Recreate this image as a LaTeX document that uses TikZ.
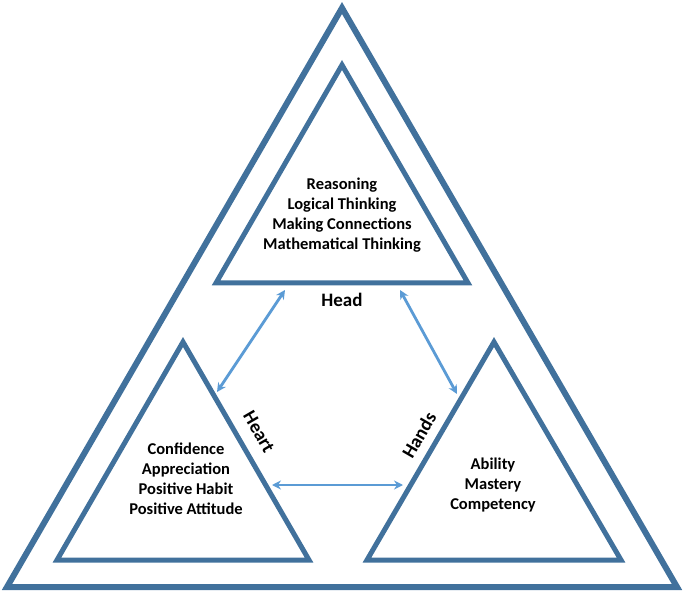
\documentclass[tikz,border=0pt]{standalone}
\usepackage{fontspec}
\setmainfont{Carlito}
\usetikzlibrary{arrows.meta}
\definecolor{tri}{RGB}{65,113,156}
\definecolor{arr}{RGB}{91,155,213}
\begin{document}
\begin{tikzpicture}[x=1pt,y=-1pt,
  outertri/.style={draw=tri,line width=6pt,line join=miter},
  innertri/.style={draw=tri,line width=5pt,line join=miter},
  link/.style={draw=arr,line width=2.8pt,{Stealth[length=9pt,width=9pt]}-{Stealth[length=9pt,width=9pt]}},
  lbl/.style={font=\bfseries\fontsize{16.5}{20}\selectfont,align=center,text=black,inner sep=0pt},
  side/.style={font=\bfseries\fontsize{19}{22}\selectfont,text=black,inner sep=0pt}]
\useasboundingbox (0,0) rectangle (685,593);
% outer triangle
\draw[outertri] (342,8) -- (677,587) -- (7,587) -- cycle;
% inner triangles
\draw[innertri] (342,65) -- (468,283) -- (216,283) -- cycle;
\draw[innertri] (183,342) -- (309,560) -- (57,560) -- cycle;
\draw[innertri] (494,342) -- (621,560) -- (367,560) -- cycle;
% texts
\node[lbl] (headtxt) at (342,215) {Reasoning\\Logical Thinking\\Making Connections\\Mathematical Thinking};
\node[lbl] (hearttxt) at (186,479) {Confidence\\Appreciation\\Positive Habit\\Positive Attitude};
\node[lbl] (handstxt) at (493,485) {Ability\\Mastery\\Competency};
\node[side] (head) at (342,300) {Head};
\node[side,rotate=-60] (heart) at (259,432) {Heart};
\node[side,rotate=60] (hands) at (419,435) {Hands};
% connector endpoints
\coordinate (hdL) at (285,290);
\coordinate (htT) at (217,392);
\coordinate (hdR) at (400,290);
\coordinate (hnT) at (457,394);
\coordinate (htR) at (272,485);
\coordinate (hnL) at (403,485);
\draw[link] (hdL) -- (htT);
\draw[link] (hdR) -- (hnT);
\draw[link] (htR) -- (hnL);
\end{tikzpicture}
\end{document}
